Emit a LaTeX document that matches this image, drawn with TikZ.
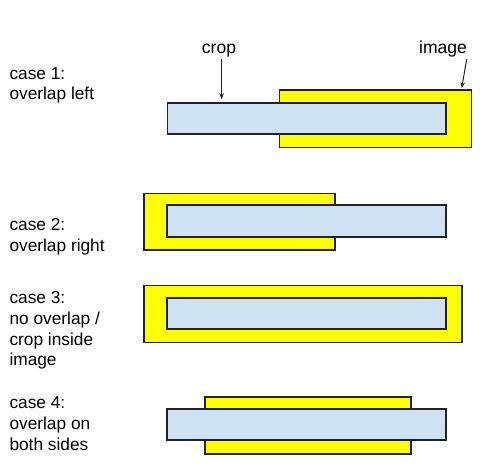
\documentclass[tikz,border=0pt]{standalone}
\usepackage{fontspec}
\setmainfont{Liberation Sans}
\usetikzlibrary{arrows.meta}
\definecolor{cropblue}{HTML}{CFE2F3}
\definecolor{imgyellow}{HTML}{FFFF00}
\definecolor{edge}{HTML}{222222}
\begin{document}
\begin{tikzpicture}[x=1pt,y=-1pt,
  box/.style={draw=edge,line width=1.3pt,inner sep=0pt,anchor=north west},
  imgbox/.style={box,fill=imgyellow},
  cropbox/.style={box,fill=cropblue},
  lbl/.style={font=\fontsize{17.3}{20.7}\selectfont,inner sep=0pt,align=left,anchor=base west},
  toplbl/.style={font=\fontsize{17.5}{20.7}\selectfont,inner sep=0pt,anchor=base},
  arr/.style={draw=edge,line width=1pt,-{Stealth[length=6pt,width=4.5pt]}}]
\useasboundingbox (0,0) rectangle (488,473);
% case 1
\node[imgbox,minimum width=192pt,minimum height=57.4pt] (img1) at (278.7,89.3) {};
\node[cropbox,minimum width=278.6pt,minimum height=31pt] (crop1) at (166.7,102.3) {};
% case 2
\node[imgbox,minimum width=191pt,minimum height=56.6pt] (img2) at (143.3,192.7) {};
\node[cropbox,minimum width=279pt,minimum height=32pt] (crop2) at (166.3,204.3) {};
% case 3
\node[imgbox,minimum width=318pt,minimum height=57pt] (img3) at (143.3,284.7) {};
\node[cropbox,minimum width=279pt,minimum height=31pt] (crop3) at (166.3,297.3) {};
% case 4
\node[imgbox,minimum width=206pt,minimum height=57pt] (img4) at (204.3,396.3) {};
\node[cropbox,minimum width=279pt,minimum height=31pt] (crop4) at (166.3,408.3) {};
% labels (anchor = baseline of last line)
\node[lbl] (l1) at (9.3,100) {case 1:\\overlap left};
\node[lbl] (l2) at (9.3,251.5) {case 2:\\overlap right};
\node[lbl] (l3) at (9.3,366) {case 3:\\no overlap /\\crop inside\\image};
\node[lbl] (l4) at (9.3,450) {case 4:\\overlap on\\both sides};
\node[toplbl] (cl) at (219,54) {crop};
\node[toplbl] (il) at (443,54) {image};
\coordinate (ct) at (221.7,99.3);
\coordinate (it) at (461.7,88.3);
\draw[arr] (cl.south -| ct) ++(0,1) -- (ct);
\draw[arr] (466.7,59) -- (it);
\end{tikzpicture}
\end{document}
